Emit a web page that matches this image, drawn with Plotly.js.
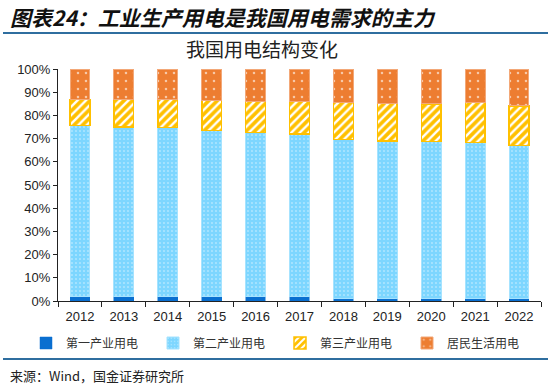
<!DOCTYPE html>
<html>
<head>
<meta charset="utf-8">
<script src="https://cdn.plot.ly/plotly-3.0.1.min.js"></script>
<style>html,body{margin:0;padding:0;background:#fff;}#chart{width:548px;height:389px;}</style>
</head>
<body>
<div id="chart"></div>
<script>
const years = ['2012','2013','2014','2015','2016','2017','2018','2019','2020','2021','2022'];
const primary    = [2.0, 1.8, 1.8, 1.8, 1.8, 1.8, 1.1, 1.1, 1.1, 1.1, 1.2];
const secondary  = [73.6, 73.3, 72.9, 71.6, 70.9, 70.2, 68.6, 67.9, 67.7, 67.3, 65.9];
const tertiary   = [11.3, 11.8, 12.2, 13.2, 13.2, 13.9, 15.8, 16.2, 16.2, 17.1, 17.0];
const residential= [13.1, 13.1, 13.1, 13.4, 14.1, 14.1, 14.5, 14.8, 15.0, 14.5, 15.9];
const seriesNames = ['第一产业用电','第二产业用电','第三产业用电','居民生活用电'];

const W = 548, H = 389, L = 58, R = 7, T = 69, B = 88;
const pw = W - L - R, ph = H - T - B;
const px = x => (x - L) / pw;
const py = y => (H - B - y) / ph;

const cjk = '"Noto Sans CJK SC", "Noto Sans", sans-serif';

const traces = [
  {name: seriesNames[0], y: primary, x: years, type: 'bar',
   marker: {color: '#0A6FD0', line: {color: '#0A6FD0', width: 0.5}}},
  {name: seriesNames[1], y: secondary, x: years, type: 'bar',
   marker: {color: '#7DD6FF', line: {color: '#A6E3FF', width: 1},
            pattern: {shape: '.', fillmode: 'replace', bgcolor: '#7DD6FF', fgcolor: '#D8F3FF', size: 4, solidity: 0.12}}},
  {name: seriesNames[2], y: tertiary, x: years, type: 'bar',
   marker: {color: '#FFC000', line: {color: '#FFC000', width: 1.5},
            pattern: {shape: '/', fillmode: 'replace', bgcolor: '#FFC000', fgcolor: '#FFFFFF', size: 6, solidity: 0.4}}},
  {name: seriesNames[3], y: residential, x: years, type: 'bar',
   marker: {color: '#ED7D31', line: {color: '#F3A878', width: 1},
            pattern: {shape: '.', fillmode: 'replace', bgcolor: '#ED7D31', fgcolor: '#F8C9A8', size: 8, solidity: 0.08}}}
];

const layout = {
  width: W, height: H,
  margin: {l: L, r: R, t: T, b: B, pad: 0},
  paper_bgcolor: '#fff', plot_bgcolor: '#fff',
  barmode: 'stack', bargap: 0.55,
  showlegend: true,
  legend: {orientation: 'h', x: px(26), xanchor: 'left', y: py(343), yanchor: 'middle',
           traceorder: 'normal', itemwidth: 30, entrywidth: 82, entrywidthmode: 'pixels',
           font: {family: cjk, size: 12, color: '#333'}},
  xaxis: {type: 'category', showgrid: false, showline: true, linecolor: '#222', linewidth: 1,
          ticks: 'outside', tickson: 'boundaries', ticklen: 5, tickcolor: '#222', ticklabelstandoff: 3,
          tickfont: {family: 'Liberation Sans, Arial, sans-serif', size: 13, color: '#222'}, zeroline: false},
  yaxis: {range: [0, 100], dtick: 10, ticksuffix: '%', showgrid: false, showline: true,
          linecolor: '#222', linewidth: 1, ticks: 'outside', ticklen: 4, tickcolor: '#222',
          tickfont: {family: 'Liberation Sans, Arial, sans-serif', size: 13, color: '#222'}, zeroline: false},
  shapes: [
    {type: 'line', xref: 'paper', yref: 'paper', x0: px(3), x1: px(548), y0: py(33), y1: py(33),
     line: {color: '#2F6E9F', width: 2}},
    {type: 'line', xref: 'paper', yref: 'paper', x0: px(3), x1: px(548), y0: py(359), y1: py(359),
     line: {color: '#2F6E9F', width: 2}}
  ],
  annotations: [
    {text: '<b><i>图表24：工业生产用电是我国用电需求的主力</i></b>', xref: 'paper', yref: 'paper',
     x: px(8), y: py(17), xanchor: 'left', yanchor: 'middle', showarrow: false,
     font: {family: cjk, size: 21, color: '#111'}},
    {text: '我国用电结构变化', xref: 'paper', yref: 'paper',
     x: px(262), y: py(48), xanchor: 'center', yanchor: 'middle', showarrow: false,
     font: {family: cjk, size: 19, color: '#222'}},
    {text: '来源：Wind，国金证券研究所', xref: 'paper', yref: 'paper',
     x: px(8), y: py(375), xanchor: 'left', yanchor: 'middle', showarrow: false,
     font: {family: cjk, size: 13, color: '#222'}}
  ]
};

Plotly.newPlot('chart', traces, layout, {displayModeBar: false, staticPlot: true});
</script>
</body>
</html>
